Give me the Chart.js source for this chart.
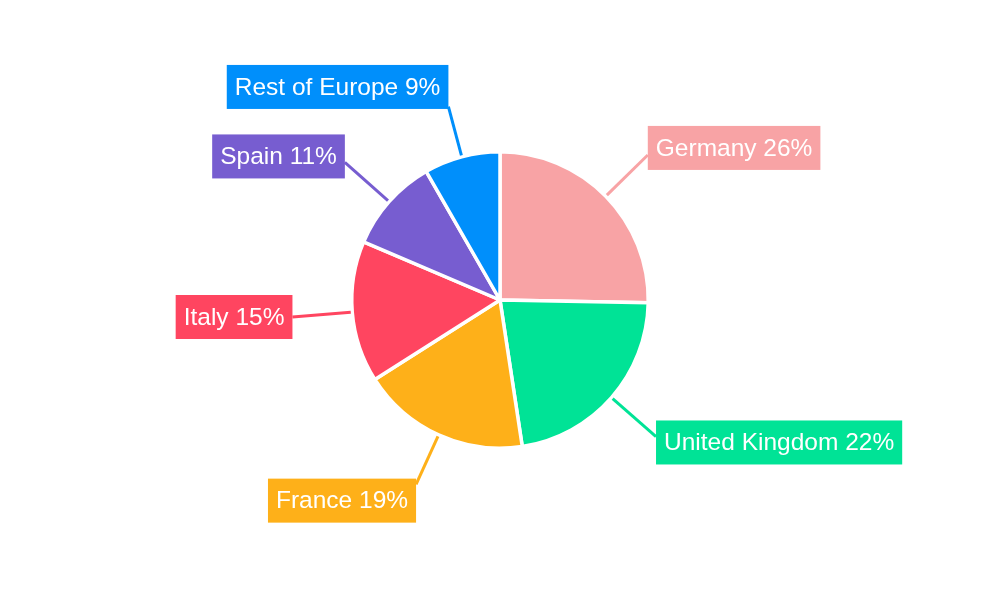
<!DOCTYPE html>
<html>
<head>
<meta charset="utf-8">
<script src="https://cdn.jsdelivr.net/npm/chart.js@4.4.1/dist/chart.umd.min.js"></script>
<style>
  html, body { margin: 0; padding: 0; background: #ffffff; }
  #wrap { width: 1000px; height: 600px; position: relative; }
</style>
</head>
<body>
<div id="wrap"><canvas id="c" width="1000" height="600"></canvas></div>
<script>
// Data
const regions = ["Germany", "United Kingdom", "France", "Italy", "Spain", "Rest of Europe"];
const shares = [25.3, 22.3, 18.4, 15.4, 10.3, 8.3];
const shownPct = [26, 22, 19, 15, 11, 9];
const colors = ["#F8A3A5", "#00E396", "#FEB019", "#FF4560", "#775DD0", "#008FFB"];

const calloutPlugin = {
  id: 'callouts',
  afterDatasetsDraw(chart) {
    const ctx = chart.ctx;
    const meta = chart.getDatasetMeta(0);
    const font = '24.5px "Liberation Sans", Arial, sans-serif';
    const boxH = 44, pad = 8;
    ctx.save();
    ctx.font = font;
    meta.data.forEach((arc, i) => {
      const p = arc.getProps(['x', 'y', 'startAngle', 'endAngle', 'outerRadius'], true);
      const mid = (p.startAngle + p.endAngle) / 2;
      const vx = Math.cos(mid), vy = Math.sin(mid);
      const R = p.outerRadius + 60 - 10 * Math.pow(Math.abs(vy), 6);
      const px = p.x + R * vx, py = p.y + R * vy;
      const text = regions[i] + ' ' + shownPct[i] + '%';
      const w = ctx.measureText(text).width + 2 * pad;
      const left = vx >= 0 ? px : px - w;
      let cy = py + (boxH / 2) * Math.sign(vy) * Math.pow(Math.abs(vy), 3.2);
      let top = cy - boxH / 2;
      if (py < top) top = py;
      if (py > top + boxH) top = py - boxH;
      // leader line
      const r0 = p.outerRadius + 1.5;
      ctx.strokeStyle = colors[i];
      ctx.lineWidth = 3;
      ctx.beginPath();
      ctx.moveTo(p.x + r0 * vx, p.y + r0 * vy);
      ctx.lineTo(px, py);
      ctx.stroke();
      // box
      ctx.fillStyle = colors[i];
      ctx.fillRect(left, top, w, boxH);
      ctx.fillStyle = '#ffffff';
      ctx.textAlign = 'left';
      ctx.textBaseline = 'middle';
      ctx.fillText(text, left + pad, top + boxH / 2 + 1);
    });
    ctx.restore();
  }
};

new Chart(document.getElementById('c'), {
  type: 'pie',
  data: {
    labels: regions,
    datasets: [{
      data: shares,
      backgroundColor: colors,
      borderColor: '#ffffff',
      borderWidth: 3.5,
      hoverBorderWidth: 3.5,
      hoverOffset: 0,
      offset: 0
    }]
  },
  options: {
    responsive: false,
    animation: false,
    events: [],
    layout: { padding: { top: 150, bottom: 150, left: 0, right: 0 } },
    plugins: {
      legend: { display: false },
      tooltip: { enabled: false },
      title: { display: false }
    }
  },
  plugins: [calloutPlugin]
});
</script>
</body>
</html>
